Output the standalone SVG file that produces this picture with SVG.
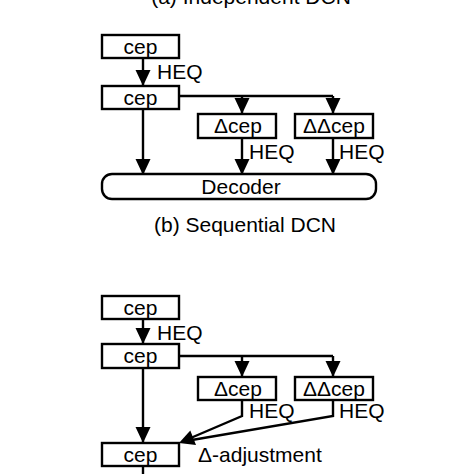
<svg xmlns="http://www.w3.org/2000/svg" width="474" height="474" viewBox="0 0 474 474">
<defs>
<style>
.box{fill:#fff;stroke:#000;stroke-width:2.4}
.ln{fill:none;stroke:#000;stroke-width:2.4}
.t{font-family:"Liberation Sans",Arial,sans-serif;font-size:21px;fill:#000}
.c{text-anchor:middle}
.ah{fill:#000}
</style>
<marker id="arr" markerUnits="userSpaceOnUse" markerWidth="17" markerHeight="17" refX="16" refY="7.5" orient="auto" viewBox="0 0 17 15">
<path d="M0,0 L16,7.5 L0,15 Z" fill="#000"/>
</marker>
</defs>
<rect width="474" height="474" fill="#fff"/>
<text class="t c" x="251" y="4">(a) Independent DCN</text>

<g id="connectors">
<line class="ln" x1="143" y1="58" x2="143" y2="86" marker-end="url(#arr)"/>
<path class="ln" d="M179,96 H333"/>
<line class="ln" x1="242" y1="96" x2="242" y2="114" marker-end="url(#arr)"/>
<line class="ln" x1="333" y1="96" x2="333" y2="114" marker-end="url(#arr)"/>
<line class="ln" x1="143" y1="109" x2="143" y2="175" marker-end="url(#arr)"/>
<line class="ln" x1="242" y1="138" x2="242" y2="175" marker-end="url(#arr)"/>
<line class="ln" x1="333" y1="138" x2="333" y2="175" marker-end="url(#arr)"/>

<line class="ln" x1="143" y1="319" x2="143" y2="344" marker-end="url(#arr)"/>
<path class="ln" d="M179,356 H333"/>
<line class="ln" x1="242" y1="356" x2="242" y2="377" marker-end="url(#arr)"/>
<line class="ln" x1="333" y1="356" x2="333" y2="377" marker-end="url(#arr)"/>
<line class="ln" x1="143" y1="368" x2="143" y2="443" marker-end="url(#arr)"/>
<path class="ln" d="M242,400 V416 L186,440"/>
<path class="ln" d="M333,400 V416 L186,441"/>
<polygon class="ah" points="179,443 190.3,430.6 196,445"/>
<line class="ln" x1="143" y1="466" x2="143" y2="474"/>
</g>

<g id="b-cep1"><rect class="box" x="102" y="35" width="77" height="23"/><text class="t c" x="140.5" y="54">cep</text></g>
<text class="t" x="157" y="79">HEQ</text>
<g id="b-cep2"><rect class="box" x="102" y="86" width="77" height="23"/><text class="t c" x="140.5" y="105">cep</text></g>
<g id="b-dcep"><rect class="box" x="198" y="114" width="78" height="24"/><text class="t c" x="238" y="133">Δcep</text></g>
<g id="b-ddcep"><rect class="box" x="295" y="114" width="78" height="24"/><text class="t c" x="334" y="133">ΔΔcep</text></g>
<text class="t" x="249" y="159">HEQ</text>
<text class="t" x="339" y="159">HEQ</text>
<g id="b-decoder"><rect class="box" x="102" y="174" width="274" height="25" rx="10"/><text class="t c" x="241" y="194">Decoder</text></g>
<text class="t c" x="245" y="232">(b) Sequential DCN</text>

<g id="c-cep1"><rect class="box" x="102" y="296" width="77" height="23"/><text class="t c" x="140.5" y="315">cep</text></g>
<text class="t" x="157" y="340">HEQ</text>
<g id="c-cep2"><rect class="box" x="102" y="344" width="77" height="24"/><text class="t c" x="140.5" y="363">cep</text></g>
<g id="c-dcep"><rect class="box" x="198" y="377" width="78" height="23"/><text class="t c" x="238" y="396">Δcep</text></g>
<g id="c-ddcep"><rect class="box" x="295" y="377" width="78" height="23"/><text class="t c" x="334" y="396">ΔΔcep</text></g>
<text class="t" x="249" y="418">HEQ</text>
<text class="t" x="339" y="418">HEQ</text>
<g id="c-cep3"><rect class="box" x="102" y="443" width="77" height="23"/><text class="t c" x="140.5" y="462">cep</text></g>
<text class="t" x="198" y="462">Δ-adjustment</text>
</svg>
